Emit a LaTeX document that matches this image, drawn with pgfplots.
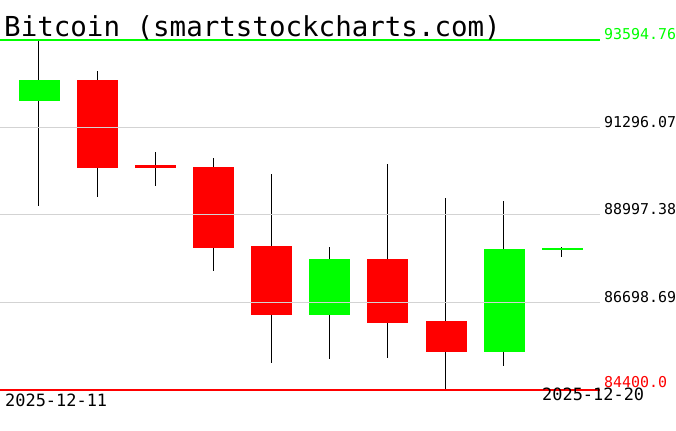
\documentclass[border=0pt]{standalone}
\usepackage{pgfplots}
\pgfplotsset{compat=1.18}
\usepackage{fontspec}
\setmainfont{DejaVu Sans Mono}
\definecolor{cgreen}{RGB}{0,255,0}
\definecolor{cred}{RGB}{255,0,0}
\definecolor{cgrid}{RGB}{211,211,211}
\begin{document}
\begin{tikzpicture}
\useasboundingbox (0,0) rectangle (676bp,431bp);
\begin{axis}[
  at={(0bp,41bp)}, anchor=south west,
  scale only axis, width=600bp, height=350bp,
  xmin=-0.671, xmax=9.656,
  ymin=84400, ymax=93594.76,
  hide axis,
  clip=false,
]
% wicks
\addplot[black, line width=1bp] coordinates {(0,89241.8) (0,93594.8)};
\addplot[black, line width=1bp] coordinates {(1,89478) (1,92780)};
\addplot[black, line width=1bp] coordinates {(2,89767) (2,90652)};
\addplot[black, line width=1bp] coordinates {(3,87534) (3,90495)};
\addplot[black, line width=1bp] coordinates {(4,85117) (4,90074)};
\addplot[black, line width=1bp] coordinates {(5,85222) (5,88157)};
\addplot[black, line width=1bp] coordinates {(6,85249) (6,90337)};
\addplot[black, line width=1bp] coordinates {(7,84400) (7,89444)};
\addplot[black, line width=1bp] coordinates {(8,85038) (8,89365)};
\addplot[black, line width=1bp] coordinates {(9,87902) (9,88157)};
% bodies
\addplot[fill=cgreen, draw=cgreen, line width=0.3bp] coordinates {(-0.344,92018.6) (0.344,92018.6) (0.344,92544) (-0.344,92544)} --cycle;
\addplot[fill=cred, draw=cred, line width=0.3bp] coordinates {(0.656,92544) (1.344,92544) (1.344,90266) (0.656,90266)} --cycle;
\addplot[fill=cred, draw=cred, line width=0.3bp] coordinates {(1.656,90300) (2.344,90300) (2.344,90250) (1.656,90250)} --cycle;
\addplot[fill=cred, draw=cred, line width=0.3bp] coordinates {(2.656,90266) (3.344,90266) (3.344,88165) (2.656,88165)} --cycle;
\addplot[fill=cred, draw=cred, line width=0.3bp] coordinates {(3.656,88191) (4.344,88191) (4.344,86404) (3.656,86404)} --cycle;
\addplot[fill=cgreen, draw=cgreen, line width=0.3bp] coordinates {(4.656,86404) (5.344,86404) (5.344,87841) (4.656,87841)} --cycle;
\addplot[fill=cred, draw=cred, line width=0.3bp] coordinates {(5.656,87841) (6.344,87841) (6.344,86194) (5.656,86194)} --cycle;
\addplot[fill=cred, draw=cred, line width=0.3bp] coordinates {(6.656,86213) (7.344,86213) (7.344,85432) (6.656,85432)} --cycle;
\addplot[fill=cgreen, draw=cgreen, line width=0.3bp] coordinates {(7.656,85432) (8.344,85432) (8.344,88104) (7.656,88104)} --cycle;
\addplot[fill=cgreen, draw=cgreen, line width=0.3bp] coordinates {(8.656,88088) (9.344,88088) (9.344,88114) (8.656,88114)} --cycle;
% grid lines
\addplot[draw=cgrid, line width=1bp] coordinates {(-0.671,86698.69) (9.656,86698.69)};
\addplot[draw=cgrid, line width=1bp] coordinates {(-0.671,88997.38) (9.656,88997.38)};
\addplot[draw=cgrid, line width=1bp] coordinates {(-0.671,91296.07) (9.656,91296.07)};
\addplot[draw=cgreen, line width=1.2bp] coordinates {(-0.671,93594.76) (9.656,93594.76)};
\addplot[draw=cred, line width=1.2bp] coordinates {(-0.671,84400) (9.656,84400)};
% y labels
\node[anchor=base west, inner sep=0pt, text=cgreen, font=\fontsize{15}{15}\selectfont] at (axis cs:9.656,93594.76) [xshift=4bp] {93594.76};
\node[anchor=base west, inner sep=0pt, font=\fontsize{15}{15}\selectfont] at (axis cs:9.656,91296.07) [xshift=4bp] {91296.07};
\node[anchor=base west, inner sep=0pt, font=\fontsize{15}{15}\selectfont] at (axis cs:9.656,88997.38) [xshift=4bp] {88997.38};
\node[anchor=base west, inner sep=0pt, font=\fontsize{15}{15}\selectfont] at (axis cs:9.656,86698.69) [xshift=4bp] {86698.69};
\node[anchor=base west, inner sep=0pt, text=cred, font=\fontsize{15}{15}\selectfont] at (axis cs:9.656,84400) [xshift=4bp, yshift=2bp] {84400.0};
% texts
\node[anchor=base west, inner sep=0pt, font=\fontsize{27.6}{27.6}\selectfont] at (rel axis cs:0,1) [xshift=4bp, yshift=3bp] {Bitcoin (smartstockcharts.com)};
\node[anchor=base west, inner sep=0pt, font=\fontsize{17}{17}\selectfont] at (rel axis cs:0,0) [xshift=5bp, yshift=-17bp] {2025-12-11};
\node[anchor=base west, inner sep=0pt, font=\fontsize{17}{17}\selectfont] at (rel axis cs:0.9033,0) [yshift=-11bp] {2025-12-20};
\end{axis}
\end{tikzpicture}
\end{document}
